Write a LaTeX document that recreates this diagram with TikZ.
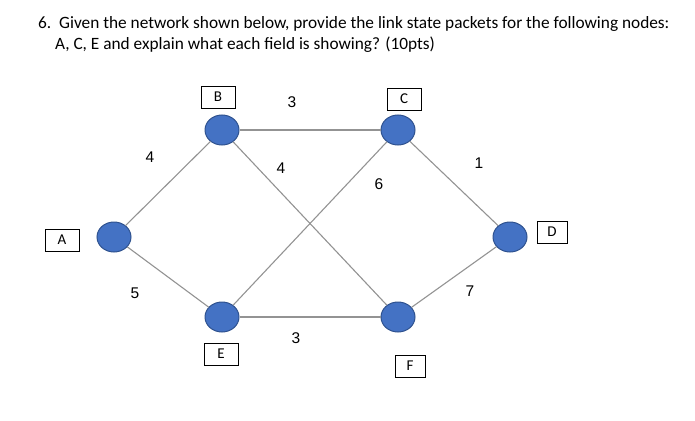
\documentclass[tikz,border=0pt]{standalone}
\usepackage{fontspec}
\setmainfont{Carlito}
\setsansfont{Liberation Sans}
\usetikzlibrary{shapes.geometric}
\definecolor{nb}{HTML}{4472C4}
\definecolor{ns}{HTML}{2F528F}
\begin{document}
\begin{tikzpicture}[x=1pt,y=-1pt,
  v/.style={ellipse,fill=nb,draw=ns,line width=1pt,minimum width=34pt,minimum height=30pt,inner sep=0},
  lab/.style={draw,thin,minimum width=34pt,minimum height=22pt,font=\fontsize{15}{17}\selectfont},
  w/.style={font=\fontsize{15.5}{17}\selectfont\sffamily},
  e/.style={draw=gray!85,line width=1.1pt}]
\useasboundingbox (0,0) rectangle (695,420);
\node[anchor=north west,align=left,inner sep=0,font=\fontsize{17.3}{21}\selectfont] (t) at (38,16) {6.\ \ Given the network shown below, provide the link state packets for the following nodes:\\\hspace*{17pt}A, C, E and explain what each field is showing? (10pts)};
\node[v] (A) at (114,237) {};
\node[v] (B) at (222,130) {};
\node[v] (C) at (398,130) {};
\node[v] (D) at (510,237) {};
\node[v] (E) at (222,317) {};
\node[v] (F) at (398,317) {};
\draw[e] (A)--(B); \draw[e] (A)--(E); \draw[e] (B)--(C); \draw[e] (B)--(F);
\draw[e] (E)--(C); \draw[e] (E)--(F); \draw[e] (C)--(D); \draw[e] (F)--(D);
\node[lab] (lA) at (62,240) {A};
\node[lab] (lB) at (218,97) {B};
\node[lab] (lC) at (404,99) {C};
\node[lab,minimum width=30pt] (lD) at (552,232) {D};
\node[lab] (lE) at (221,354) {E};
\node[lab,minimum width=30pt] (lF) at (410,366) {F};
\node[w] (w1) at (150,157) {4};
\node[w] (w2) at (292,102) {3};
\node[w] (w3) at (281,168) {4};
\node[w] (w4) at (379,184) {6};
\node[w] (w5) at (479,163) {1};
\node[w] (w6) at (135,293) {5};
\node[w] (w7) at (296,338) {3};
\node[w] (w8) at (470,291) {7};
\end{tikzpicture}
\end{document}
